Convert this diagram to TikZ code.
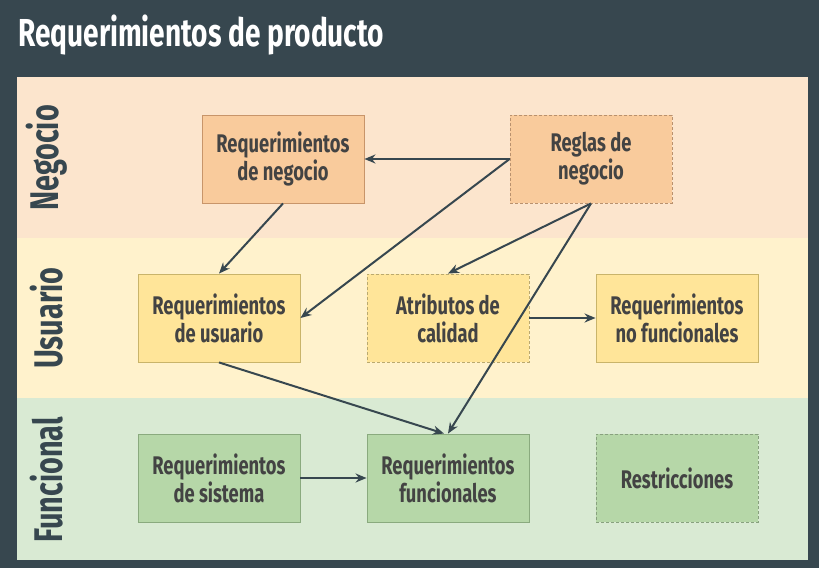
\documentclass[tikz,border=0pt]{standalone}
\usepackage{fontspec}
\setmainfont{Fira Sans}[FakeStretch=0.72]
\usetikzlibrary{arrows.meta}
\definecolor{slate}{HTML}{37474F}
\definecolor{inkgray}{HTML}{434343}
\definecolor{bandneg}{HTML}{FCE5CD}
\definecolor{bandusr}{HTML}{FFF2CC}
\definecolor{bandfun}{HTML}{D9EAD3}
\definecolor{boxneg}{HTML}{F9CB9C}
\definecolor{boxusr}{HTML}{FFE599}
\definecolor{boxfun}{HTML}{B6D7A8}
\definecolor{lineneg}{HTML}{C8956A}
\definecolor{lineusr}{HTML}{C9B46A}
\definecolor{linefun}{HTML}{8AAA7E}
\tikzset{
    reqbox/.style={rectangle, minimum width=162pt, minimum height=88pt,
        align=center, text=inkgray, font=\fontsize{25.5}{28}\selectfont\bfseries, line width=0.9pt},
    dashbox/.style={reqbox, dash pattern=on 3pt off 2pt},
    bandlabel/.style={rotate=90, text=slate, font=\fontsize{40}{40}\selectfont\bfseries},
    link/.style={draw=slate, line width=2pt, -{Stealth[length=11pt,width=9pt]}}
}
\begin{document}
\begin{tikzpicture}[x=1pt, y=-1pt]
\fill[slate] (0,0) rectangle (819,568);
\useasboundingbox (0,0) rectangle (819,568);
\node[anchor=base west, text=white, font=\fontsize{39}{39}\selectfont\bfseries, inner sep=0pt]
    (title) at (18,46) {Requerimientos de producto};
% bands
\fill[bandneg] (17,77) rectangle (808,238);
\fill[bandusr] (17,238) rectangle (808,398);
\fill[bandfun] (17,398) rectangle (808,560);
\node[bandlabel] (negocio) at (47,158) {Negocio};
\node[bandlabel] (usuario) at (47,318) {Usuario};
\node[bandlabel] (funcional) at (47,480) {Funcional};
% boxes
\node[reqbox, fill=boxneg, draw=lineneg] (rneg) at (283,159) {Requerimientos\\de negocio};
\node[dashbox, fill=boxneg, draw=lineneg!80!gray] (reglas) at (591,159) {Reglas de\\negocio};
\node[reqbox, fill=boxusr, draw=lineusr] (rusr) at (219,318) {Requerimientos\\de usuario};
\node[dashbox, fill=boxusr, draw=lineusr!80!gray] (attr) at (448,318) {Atributos de\\calidad};
\node[reqbox, fill=boxusr, draw=lineusr] (rnof) at (677,318) {Requerimientos\\no funcionales};
\node[reqbox, fill=boxfun, draw=linefun] (rsis) at (219,478) {Requerimientos\\de sistema};
\node[reqbox, fill=boxfun, draw=linefun] (rfun) at (448,478) {Requerimientos\\funcionales};
\node[dashbox, fill=boxfun, draw=linefun!80!gray] (restr) at (677,478) {Restricciones};
% links
\draw[link] (reglas.west) -- (rneg.east);
\draw[link] (rneg.south) -- (rusr.north);
\draw[link] (reglas.west) -- (rusr.east);
\draw[link] (reglas.south) -- (attr.north);
\draw[link] (reglas.south) -- (rfun.north);
\draw[link] (rusr.south) -- ([xshift=-4pt]rfun.north);
\draw[link] (attr.east) -- (rnof.west);
\draw[link] (rsis.east) -- (rfun.west);
\end{tikzpicture}
\end{document}
